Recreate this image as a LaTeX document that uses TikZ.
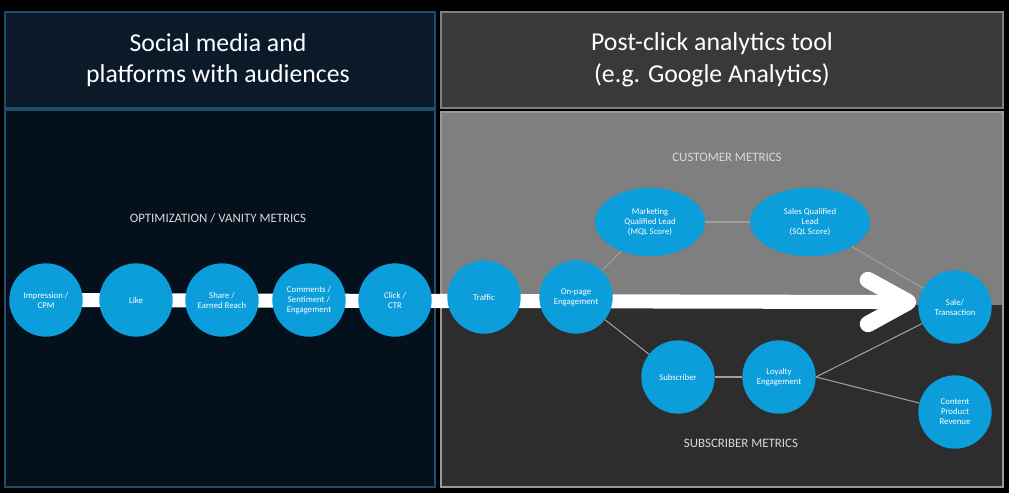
\documentclass[tikz,border=0pt]{standalone}
\usepackage{fontspec}
\setmainfont{Carlito}
\usetikzlibrary{positioning}
\definecolor{navyhead}{HTML}{0B1A29}
\definecolor{navybody}{HTML}{04101B}
\definecolor{navyline}{HTML}{1F4D6E}
\definecolor{greyhead}{HTML}{393939}
\definecolor{greytop}{HTML}{7F7F7F}
\definecolor{greybot}{HTML}{2D2D2D}
\definecolor{bubble}{HTML}{0C9DDB}
\tikzset{
  metric/.style={circle,fill=bubble,minimum size=2.2cm,inner sep=0pt,align=center,text=white,font=\fontsize{7.5}{8.5}\selectfont},
  lead/.style={ellipse,fill=bubble,minimum width=3.3cm,minimum height=2.05cm,inner sep=0pt,align=center,text=white,font=\fontsize{7.5}{8.5}\selectfont},
  link/.style={draw=gray!75,line width=0.9pt},
  head/.style={text=white,align=center,font=\fontsize{22}{27}\selectfont},
  group/.style={text=white!85!black,font=\fontsize{11}{13}\selectfont}
}
\usetikzlibrary{shapes.geometric}
\begin{document}
\begin{tikzpicture}[x=0.03cm,y=-0.03cm]
\fill[black] (0,0) rectangle (1009,493);
\useasboundingbox (0,0) rectangle (1009,493);
% panels
\draw[navyline,fill=navyhead,line width=1pt] (5,12) rectangle (435,108);
\draw[navyline,fill=navybody,line width=1pt] (5,110) rectangle (435,487);
\draw[gray,fill=greyhead,line width=1pt] (441,12) rectangle (1003,108);
\fill[greytop] (441,112) rectangle (1003,305);
\fill[greybot] (441,305) rectangle (1003,487);
\draw[gray!80,line width=1pt] (441,112) rectangle (1003,487);
\node[head] (lefthead) at (218,60) {Social media and\\platforms with audiences};
\node[head] (righthead) at (712,60) {Post-click analytics tool\\(e.g. Google Analytics)};
\node[group] (optim) at (218,218) {OPTIMIZATION / VANITY METRICS};
\node[group] (cust) at (727,157) {CUSTOMER METRICS};
\node[group] (subs) at (741,443) {SUBSCRIBER METRICS};
% flow arrow
\coordinate (start) at (10,300);
\coordinate (tip) at (908,302);
\draw[white,line width=12pt] (start) -- (890,302);
\draw[white,line width=14pt,line cap=round,line join=round] (868,280) -- (tip) -- (868,324);
% nodes
\node[metric] (imp) at (46,300) {Impression /\\CPM};
\node[metric] (like) at (136,300) {Like};
\node[metric] (share) at (222,300) {Share /\\Earned Reach};
\node[metric] (comm) at (309,300) {Comments /\\Sentiment /\\Engagement};
\node[metric] (click) at (395,300) {Click /\\CTR};
\node[metric] (traffic) at (484,297) {Traffic};
\node[metric] (onpage) at (576,297) {On-page\\Engagement};
\node[lead] (mql) at (650,222) {Marketing\\Qualified Lead\\(MQL Score)};
\node[lead,minimum width=3.6cm] (sql) at (810,222) {Sales Qualified\\Lead\\(SQL Score)};
\node[metric] (sale) at (955,307) {Sale/\\Transaction};
\node[metric] (subscr) at (678,377) {Subscriber};
\node[metric] (loyal) at (779,377) {Loyalty\\Engagement};
\node[metric] (content) at (955,412) {Content\\Product\\Revenue};
% links
\draw[link] (onpage) -- (mql);
\draw[link] (mql) -- (sql);
\draw[link] (sql) -- (sale);
\draw[link] (onpage) -- (subscr);
\draw[link] (subscr) -- (loyal);
\draw[link] (loyal.east) -- (sale);
\draw[link] (loyal.east) -- (content);
\end{tikzpicture}
\end{document}
